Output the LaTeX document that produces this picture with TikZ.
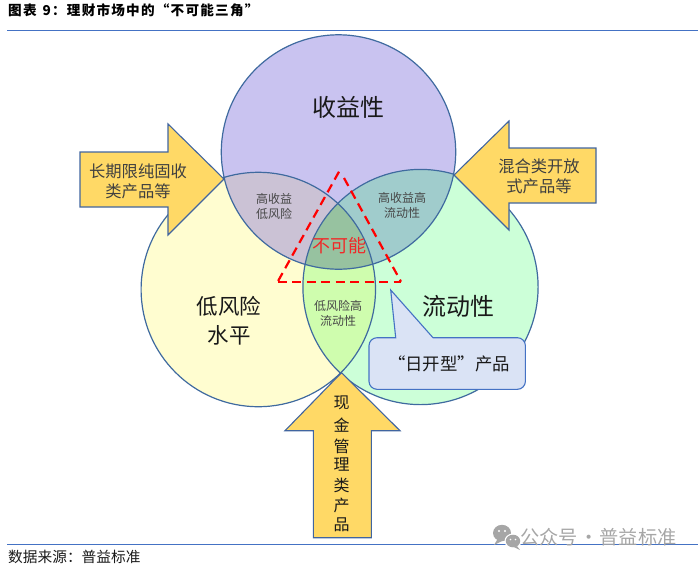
\documentclass[tikz,border=0pt]{standalone}
\usepackage{fontspec}
\setmainfont{Noto Sans CJK SC}
\newcommand{\fsz}[1]{\fontsize{#1}{#1}\selectfont}
\definecolor{ctop}{HTML}{C9C3F0}
\definecolor{cleft}{HTML}{FFFDD0}
\definecolor{cright}{HTML}{CCFFD8}
\definecolor{ctl}{HTML}{CBC2D5}
\definecolor{ctr}{HTML}{A0CCCC}
\definecolor{clr}{HTML}{CFFDAE}
\definecolor{cmid}{HTML}{97C2A0}
\definecolor{cedge}{HTML}{3F6A9F}
\definecolor{carrow}{HTML}{FFD966}
\definecolor{arrowedge}{HTML}{41659F}
\definecolor{ruleblue}{HTML}{4472C4}
\definecolor{bubble}{HTML}{DAE3F5}
\definecolor{wm}{HTML}{A6A6A6}
\definecolor{redtxt}{HTML}{F02828}
\tikzset{
  vennedge/.style={draw=cedge,line width=1.2pt},
  bigarrow/.style={draw=arrowedge,fill=carrow,line width=1.1pt,line join=miter},
  impossible/.style={draw=red,line width=2.2pt,dash pattern=on 9pt off 5.5pt},
  headrule/.style={draw=ruleblue,line width=0.9pt},
  lbl/.style={inner sep=0pt,align=center,text=black!85},
  small/.style={lbl,font=\fsz{12},text=black!72},
  arrowtxt/.style={lbl,font=\fsz{16.3},text=black!75},
  column/.style={lbl,font=\fsz{16},text=black!90}
}
\newcommand{\topc}{(338.5,152) circle[radius=117.2pt]}
\newcommand{\leftc}{(258.3,289.5) circle[radius=117.2pt]}
\newcommand{\rightc}{(420.5,287) circle[radius=117.6pt]}
\begin{document}
\begin{tikzpicture}[x=1pt,y=-1pt]
\useasboundingbox (0,0) rectangle (700,566);
% title and rules
\node[anchor=west,inner sep=0pt,font=\fsz{13.6}\bfseries] (title) at (8,10.5) {\addfontfeature{LetterSpace=9}图表\hspace{6pt}9：理财市场中的“不可能三角”};
\draw[headrule] (7.3,30.3) -- (698,30.3);
\draw[headrule] (7.3,544) -- (698,544);
\node[anchor=west,inner sep=0pt,font=\fsz{14.7},text=black!90] (source) at (8,557) {数据来源：普益标准};
% venn fills
\fill[ctop] \topc;
\fill[cleft] \leftc;
\fill[cright] \rightc;
\begin{scope}\clip \leftc; \fill[clr] \rightc; \end{scope}
\begin{scope}\clip \topc; \fill[ctl] \leftc; \end{scope}
\begin{scope}\clip \topc; \fill[ctr] \rightc; \end{scope}
\begin{scope}\clip \topc; \clip \leftc; \fill[cmid] \rightc; \end{scope}
\draw[vennedge] \topc;
\draw[vennedge] \leftc;
\draw[vennedge] \rightc;
% block arrows
\draw[bigarrow] (80,152) -- (168,152) -- (168,124) -- (224,179) -- (168,235) -- (168,207) -- (80,207) -- cycle;
\draw[bigarrow] (596,148) -- (509,148) -- (509,121) -- (454,175) -- (509,230) -- (509,203) -- (596,203) -- cycle;
\draw[bigarrow] (313.4,537.7) -- (313.4,430.7) -- (285,430.7) -- (341.5,372.7) -- (400,430.7) -- (371.4,430.7) -- (371.4,537.7) -- cycle;
% callout
\draw[draw=ruleblue,fill=bubble,line width=1.1pt,rounded corners=0pt]
  (390.7,290) -- (433,337.7) -- (517.4,337.7) arc[start angle=-90,end angle=0,x radius=8pt,y radius=-8pt]
  -- (525.4,381.3) arc[start angle=0,end angle=90,x radius=8pt,y radius=-8pt]
  -- (377,389.3) arc[start angle=90,end angle=180,x radius=8pt,y radius=-8pt]
  -- (369,345.7) arc[start angle=180,end angle=270,x radius=8pt,y radius=-8pt]
  -- (395.7,337.7) -- cycle;
% triangle
\coordinate (apex) at (339,171.7);
\coordinate (tl) at (277.7,281.7);
\coordinate (tr) at (401,281.7);
\draw[impossible] (apex) -- (tl);
\draw[impossible] (tl) -- (tr);
\draw[impossible] (344,178) -- (tr);
% labels
\node[lbl,font=\fsz{24},text=black!90] (shouyi) at (348,107) {收益性};
\node[lbl,font=\fsz{21.5},text=black!90] (lowrisk) at (229,321) {低风险\\[8pt]水平};
\node[lbl,font=\fsz{24},text=black!90] (liudong) at (458,306) {流动性};
\node[small] (tl1) at (274,206.5) {高收益\\[3.4pt]低风险};
\node[small] (tr1) at (402,205.5) {高收益高\\[3.4pt]流动性};
\node[small] (lr1) at (338,313.5) {低风险高\\[3.4pt]流动性};
\node[lbl,font=\fsz{18},text=redtxt] (buke) at (339,246) {不可能};
\node[arrowtxt] (a1) at (138,181) {长期限纯固收\\[3.7pt]类产品等};
\node[arrowtxt] (a2) at (539,176) {混合类开放\\[3.7pt]式产品等};
\node[lbl,font=\fsz{17.4},text=black!90] (ri) at (449,364) {“日开型”产品};
\foreach \t/\y in {现/403,金/425,管/446,理/465,类/485,产/505,品/525}
  \node[column] (c\y) at (341.5,\y) {\t};
% watermark
\fill[wm] (502,533) ellipse[x radius=9pt,y radius=8.2pt];
\fill[wm] (497,540) -- (494,545) -- (503,540.5) -- cycle;
\fill[white] (513,541) ellipse[x radius=8.5pt,y radius=7.5pt];
\fill[wm] (513,541) ellipse[x radius=7.2pt,y radius=6.3pt];
\fill[wm] (517,546) -- (520,550) -- (514,547) -- cycle;
\fill[white] (499,531) circle[radius=1.1pt] (505,531) circle[radius=1.1pt] (510.5,539.5) circle[radius=0.9pt] (515.5,539.5) circle[radius=0.9pt];
\node[anchor=west,inner sep=0pt,font=\fsz{19.2},text=wm] (wmtxt) at (520,537) {公众号\hspace{1.4pt}·\hspace{1.4pt}普益标准};
\end{tikzpicture}
\end{document}
